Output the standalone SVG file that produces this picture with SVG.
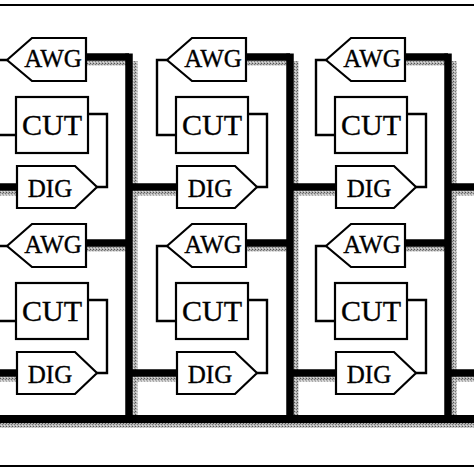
<svg xmlns="http://www.w3.org/2000/svg" width="474" height="474" viewBox="0 0 474 474">
<defs>
<style>
.shape{fill:#fff;stroke:#000;stroke-width:2.2}
.t25{font-family:"Liberation Serif","Times New Roman",serif;font-size:25px;text-anchor:middle;fill:#000;stroke:#000;stroke-width:0.35}
.t30{font-family:"Liberation Serif","Times New Roman",serif;font-size:30px;text-anchor:middle;fill:#000;stroke:#000;stroke-width:0.35}
.thin{fill:none;stroke:#000;stroke-width:2.4}
.thick{fill:none;stroke:#000;stroke-width:7.5}
.shadow{fill:url(#stipple)}
</style>
<pattern id="stipple" width="3" height="3" patternUnits="userSpaceOnUse">
<rect width="3" height="3" fill="#b4b4b4"/>
<rect width="1" height="1" fill="#555"/>
<rect x="2" y="1" width="1" height="1" fill="#777"/>
<rect x="1" y="2" width="1" height="1" fill="#ddd"/>
</pattern>
<polygon id="awgShape" points="7,60 32,38 86,38 86,81 32,81"/>
<rect id="cutShape" x="16" y="97" width="72" height="56"/>
<polygon id="digShape" points="17,166 75,166 97,187 75,208 17,208"/>
</defs>
<rect width="474" height="474" fill="#fff"/>
<line x1="0" y1="5" x2="474" y2="5" stroke="#000" stroke-width="2"/>
<line x1="0" y1="466" x2="474" y2="466" stroke="#000" stroke-width="2"/>
<g id="connectors">
<g class="shadow">
<rect x="132.5" y="61" width="5" height="362"/>
<rect x="293.5" y="61" width="5" height="362"/>
<rect x="451.5" y="61" width="5" height="362"/>
<rect x="86" y="60.5" width="46" height="5"/>
<rect x="246" y="60.5" width="47" height="5"/>
<rect x="405" y="60.5" width="46" height="5"/>
<rect x="86" y="246.5" width="46" height="5"/>
<rect x="246" y="246.5" width="47" height="5"/>
<rect x="405" y="246.5" width="46" height="5"/>
<rect x="0" y="190.5" width="17" height="5"/>
<rect x="133" y="190.5" width="44" height="5"/>
<rect x="294" y="190.5" width="42" height="5"/>
<rect x="452" y="190.5" width="22" height="5"/>
<rect x="0" y="376.5" width="17" height="5"/>
<rect x="133" y="376.5" width="44" height="5"/>
<rect x="294" y="376.5" width="42" height="5"/>
<rect x="452" y="376.5" width="22" height="5"/>
<rect x="0" y="423" width="474" height="4.5"/>
</g>
<g class="thick">
<path d="M86,57H129M246,57H290M405,57H448M86,243H129M246,243H290M405,243H448"/>
<path d="M129,53.5V419M290,53.5V419M448,53.5V419"/>
<path d="M0,187H17M129,187H177M290,187H336M448,187H474M0,373H17M129,373H177M290,373H336M448,373H474"/>
<path d="M0,419H474" stroke-width="8"/>
</g>
<g class="thin">
<path d="M0,60H7M0,135H16M88,114H107V187H97"/>
<path d="M167,60H157V135H176M248,114H267V187H257"/>
<path d="M326,60H316V135H335M407,114H426V187H416"/>
<path d="M0,246H7M0,321H16M88,300H107V373H97"/>
<path d="M167,246H157V321H176M248,300H267V373H257"/>
<path d="M326,246H316V321H335M407,300H426V373H416"/>
</g>
</g>
<g id="awg-1-1" transform="translate(0,0)"><use href="#awgShape" class="shape"/><text class="t25" x="53" y="67">AWG</text></g>
<g id="cut-1-1" transform="translate(0,0)"><use href="#cutShape" class="shape"/><text class="t30" x="52" y="135">CUT</text></g>
<g id="dig-1-1" transform="translate(0,0)"><use href="#digShape" class="shape"/><text class="t25" x="50" y="197">DIG</text></g>
<g id="awg-1-2" transform="translate(160,0)"><use href="#awgShape" class="shape"/><text class="t25" x="53" y="67">AWG</text></g>
<g id="cut-1-2" transform="translate(160,0)"><use href="#cutShape" class="shape"/><text class="t30" x="52" y="135">CUT</text></g>
<g id="dig-1-2" transform="translate(160,0)"><use href="#digShape" class="shape"/><text class="t25" x="50" y="197">DIG</text></g>
<g id="awg-1-3" transform="translate(319,0)"><use href="#awgShape" class="shape"/><text class="t25" x="53" y="67">AWG</text></g>
<g id="cut-1-3" transform="translate(319,0)"><use href="#cutShape" class="shape"/><text class="t30" x="52" y="135">CUT</text></g>
<g id="dig-1-3" transform="translate(319,0)"><use href="#digShape" class="shape"/><text class="t25" x="50" y="197">DIG</text></g>
<g id="awg-2-1" transform="translate(0,186)"><use href="#awgShape" class="shape"/><text class="t25" x="53" y="67">AWG</text></g>
<g id="cut-2-1" transform="translate(0,186)"><use href="#cutShape" class="shape"/><text class="t30" x="52" y="135">CUT</text></g>
<g id="dig-2-1" transform="translate(0,186)"><use href="#digShape" class="shape"/><text class="t25" x="50" y="197">DIG</text></g>
<g id="awg-2-2" transform="translate(160,186)"><use href="#awgShape" class="shape"/><text class="t25" x="53" y="67">AWG</text></g>
<g id="cut-2-2" transform="translate(160,186)"><use href="#cutShape" class="shape"/><text class="t30" x="52" y="135">CUT</text></g>
<g id="dig-2-2" transform="translate(160,186)"><use href="#digShape" class="shape"/><text class="t25" x="50" y="197">DIG</text></g>
<g id="awg-2-3" transform="translate(319,186)"><use href="#awgShape" class="shape"/><text class="t25" x="53" y="67">AWG</text></g>
<g id="cut-2-3" transform="translate(319,186)"><use href="#cutShape" class="shape"/><text class="t30" x="52" y="135">CUT</text></g>
<g id="dig-2-3" transform="translate(319,186)"><use href="#digShape" class="shape"/><text class="t25" x="50" y="197">DIG</text></g>
</svg>
